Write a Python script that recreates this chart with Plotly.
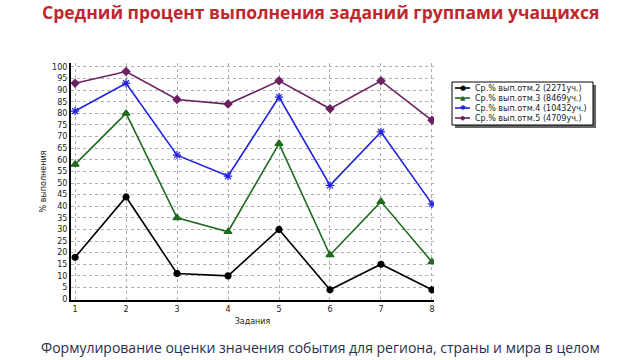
import plotly.graph_objects as go

tasks = [1, 2, 3, 4, 5, 6, 7, 8]
otm2 = [18, 44, 11, 10, 30, 4, 15, 4]
otm3 = [58, 80, 35, 29, 67, 19, 42, 16]
otm4 = [81, 93, 62, 53, 87, 49, 72, 41]
otm5 = [93, 98, 86, 84, 94, 82, 94, 77]
names = ["Ср.% вып.отм.2 (2271уч.)", "Ср.% вып.отм.3 (8469уч.)",
         "Ср.% вып.отм.4 (10432уч.)", "Ср.% вып.отм.5 (4709уч.)"]
y_ticks = list(range(0, 101, 5))

W, H = 640, 360
L, R, T, B = 71, 206, 63, 60
ph = H - T - B
pw = W - L - R

def py(px):
    return (H - B - px) / ph

def pxx(px):
    return (px - L) / pw

fig = go.Figure()
series = [
    (otm2, "#000000", "circle", 6, "●"),
    (otm3, "#1f6b1f", "triangle-up", 7, "▲"),
    (otm4, "#2020e0", "asterisk-open", 7, "✱"),
    (otm5, "#6b2060", "diamond", 6, "◆"),
]
for (vals, col, sym, sz, g), nm in zip(series, names):
    fig.add_trace(go.Scatter(
        x=tasks, y=vals, mode="lines+markers", name=nm, showlegend=False,
        line=dict(color=col, width=1.6),
        marker=dict(color=col, symbol=sym, size=sz, line=dict(color=col, width=1.2)),
    ))

# manual legend
fig.add_shape(type="rect", xref="paper", yref="paper",
              x0=pxx(455), x1=pxx(596), y0=py(128), y1=py(85),
              fillcolor="#666666", line=dict(width=0), layer="below")
fig.add_shape(type="rect", xref="paper", yref="paper",
              x0=pxx(452), x1=pxx(593), y0=py(125), y1=py(82),
              fillcolor="white", line=dict(color="black", width=1), layer="below")
rows = [88, 98, 108, 118]
for (vals, col, sym, sz, g), nm, ry in zip(series, names, rows):
    fig.add_shape(type="line", xref="paper", yref="paper",
                  x0=pxx(455), x1=pxx(470), y0=py(ry), y1=py(ry),
                  line=dict(color=col, width=1.6))
    fig.add_annotation(text=g, xref="paper", yref="paper", x=pxx(462.5), y=py(ry),
                       showarrow=False, font=dict(size=7, color=col, family="DejaVu Sans"),
                       xanchor="center", yanchor="middle")
    fig.add_annotation(text=nm, xref="paper", yref="paper", x=pxx(473), y=py(ry),
                       showarrow=False, font=dict(size=8, color="#222222", family="DejaVu Sans"),
                       xanchor="left", yanchor="middle")

fig.add_annotation(text="<b>Средний процент выполнения заданий группами учащихся</b>",
                   xref="paper", yref="paper", x=pxx(320), y=py(12),
                   showarrow=False, font=dict(size=17.5, color="#c0272d", family="Open Sans"),
                   xanchor="center", yanchor="middle")
fig.add_annotation(text="Формулирование оценки значения события для региона, страны и мира в целом",
                   xref="paper", yref="paper", x=pxx(320), y=py(347),
                   showarrow=False, font=dict(size=14, color="#1f3050", family="Open Sans"),
                   xanchor="center", yanchor="middle")

fig.update_layout(
    width=W, height=H,
    margin=dict(l=L, r=R, t=T, b=B, autoexpand=False),
    paper_bgcolor="white", plot_bgcolor="white",
    font=dict(family="DejaVu Sans", size=7, color="#222222"),
    showlegend=False,
)
fig.update_xaxes(range=[0.92, 8.04], tickvals=tasks, showgrid=True,
                 gridcolor="#b0b0b0", griddash="dot", gridwidth=1,
                 showline=True, linecolor="black", linewidth=2,
                 ticks="", zeroline=False, automargin=False,
                 title=dict(text="Задания", font=dict(size=8), standoff=6),
                 tickfont=dict(size=8))
fig.update_yaxes(range=[-0.4, 101.7], tickvals=y_ticks, showgrid=True,
                 gridcolor="#b0b0b0", griddash="dot", gridwidth=1,
                 showline=True, linecolor="black", linewidth=2,
                 ticks="", zeroline=False, automargin=False,
                 title=dict(text="% выполнения", font=dict(size=8), standoff=4),
                 tickfont=dict(size=8))

fig.write_html("out.html", config={"displayModeBar": False},
               post_script="document.body.style.margin='0';document.body.style.overflow='hidden';")
